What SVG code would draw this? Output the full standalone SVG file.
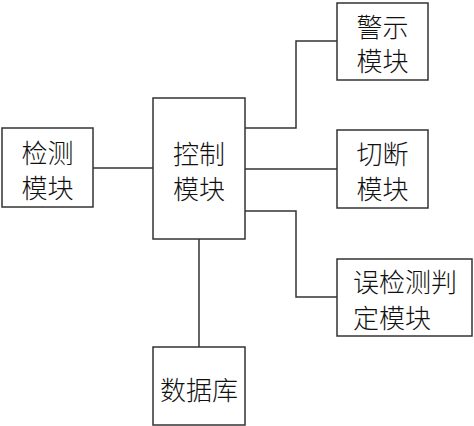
<svg xmlns="http://www.w3.org/2000/svg" width="474" height="426" viewBox="0 0 474 426">
<style>
.box{fill:#fff;stroke:#333;stroke-width:1.5}
.ln{fill:none;stroke:#333;stroke-width:1.5}
text{font-family:"Noto Sans CJK SC","Noto Sans CJK JP",sans-serif;font-size:26px;fill:#111;dominant-baseline:central;font-weight:300}
.c{text-anchor:middle}
</style>
<rect width="474" height="426" fill="#fff"/>
<g id="connectors">
<path class="ln" d="M93,168H153"/>
<path class="ln" d="M245,128H296V41H337"/>
<path class="ln" d="M245,169H337"/>
<path class="ln" d="M245,211H296V297H337"/>
<path class="ln" d="M199,239V347"/>
</g>
<g id="detect">
<rect class="box" x="2" y="128" width="91" height="79"/>
<text class="c"><tspan x="47.5" y="151">检测</tspan><tspan x="47.5" y="186">模块</tspan></text>
</g>
<g id="control">
<rect class="box" x="153" y="98" width="92" height="141"/>
<text class="c"><tspan x="199" y="152">控制</tspan><tspan x="199" y="187">模块</tspan></text>
</g>
<g id="alarm">
<rect class="box" x="337" y="3" width="91" height="77"/>
<text class="c"><tspan x="382.5" y="25">警示</tspan><tspan x="382.5" y="59">模块</tspan></text>
</g>
<g id="cutoff">
<rect class="box" x="337" y="130" width="91" height="78"/>
<text class="c"><tspan x="382.5" y="152">切断</tspan><tspan x="382.5" y="187">模块</tspan></text>
</g>
<g id="misdetect">
<rect class="box" x="337" y="259" width="135" height="77"/>
<text><tspan x="353" y="280">误检测判</tspan><tspan x="353" y="316">定模块</tspan></text>
</g>
<g id="database">
<rect class="box" x="153" y="347" width="92" height="78"/>
<text class="c" x="199" y="388">数据库</text>
</g>
</svg>
